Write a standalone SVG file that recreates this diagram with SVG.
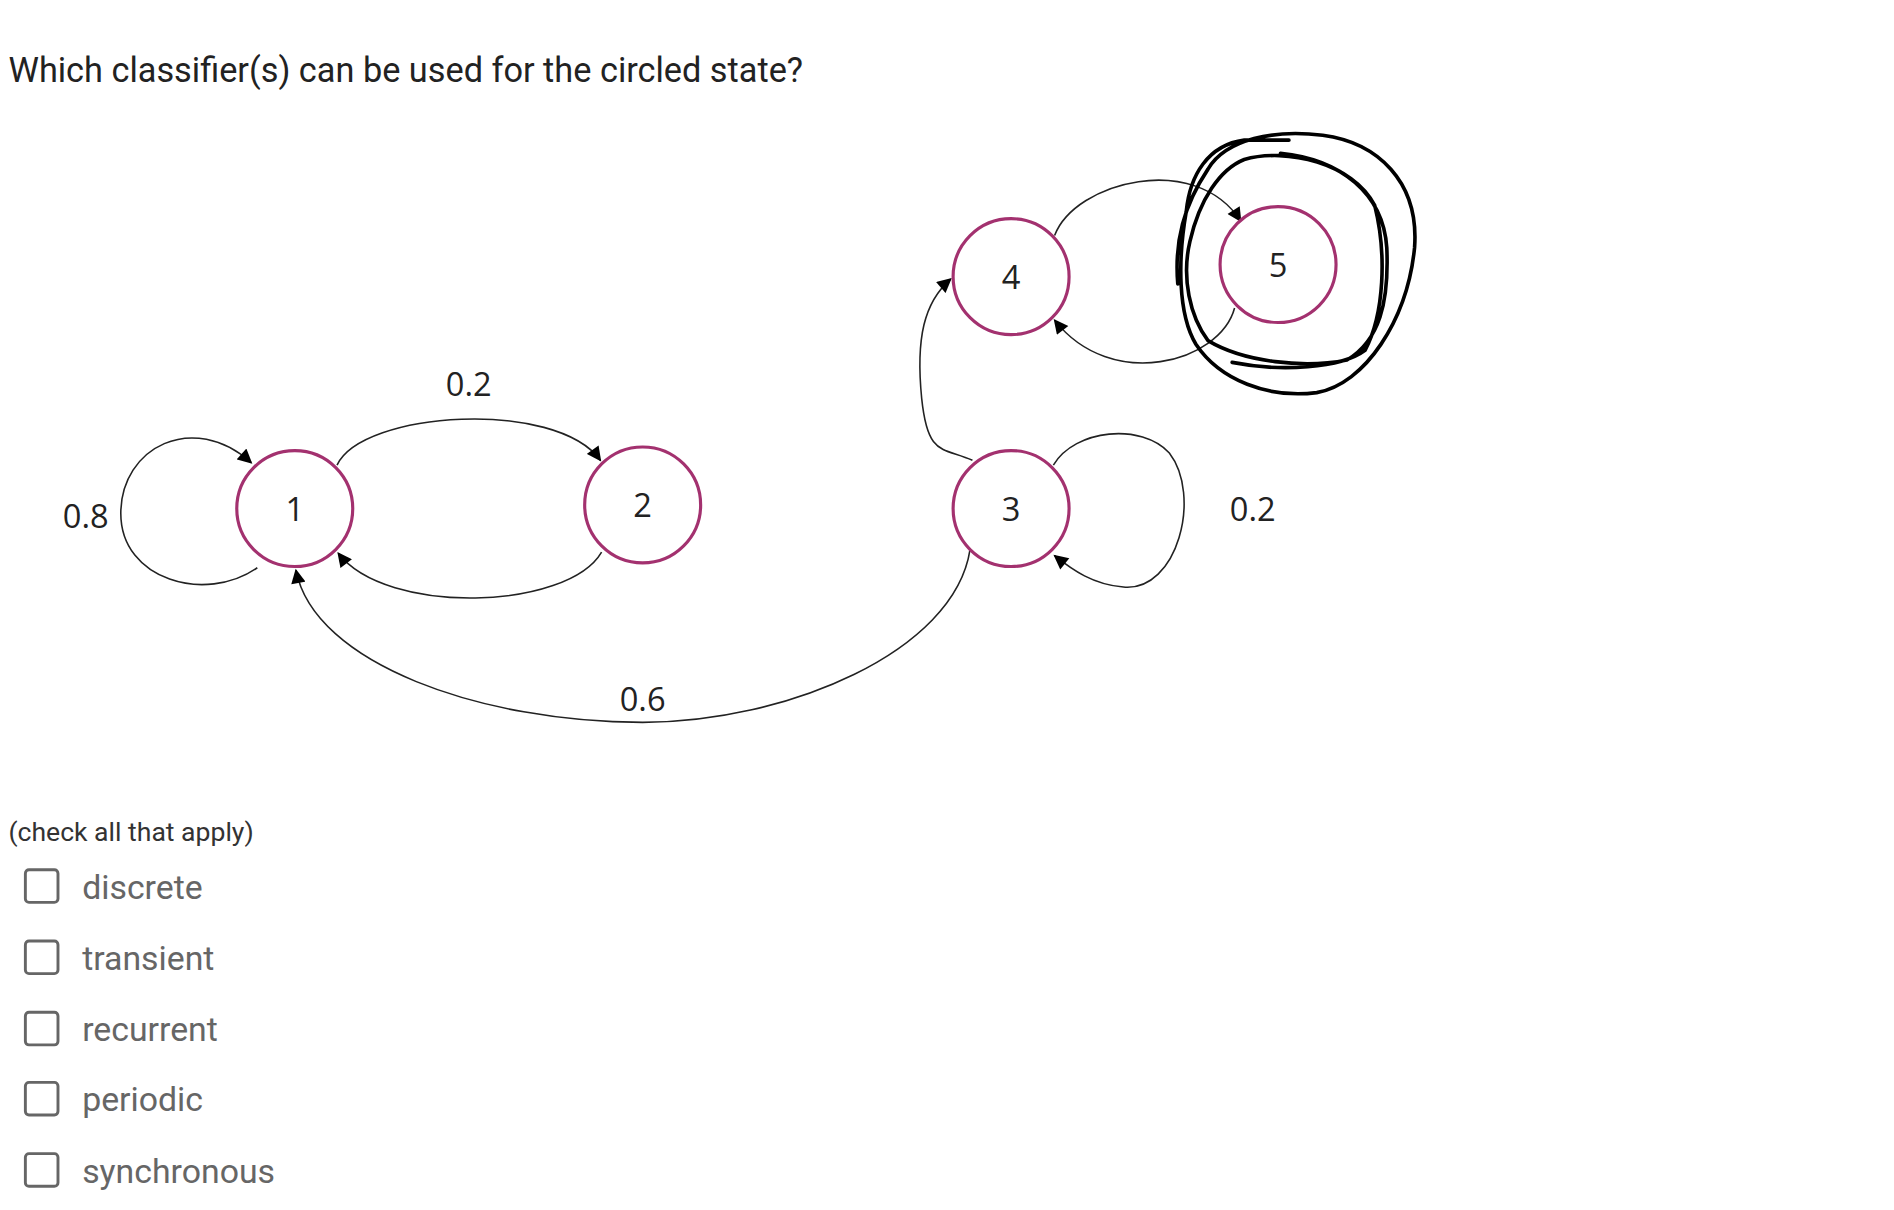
<svg xmlns="http://www.w3.org/2000/svg" width="1894" height="1210" viewBox="0 0 1894 1210">
<defs>
<marker id="ah" viewBox="0 0 10 10" refX="9" refY="5" markerWidth="13" markerHeight="12" orient="auto" markerUnits="userSpaceOnUse"><path d="M0,0 L10,5 L0,10 z" fill="#000"/></marker>
<style>
.node{fill:#fff;stroke:#a3316f;stroke-width:2.6}
.nl{font-family:"Open Sans","Noto Sans",sans-serif;font-size:27px;fill:#222;text-anchor:middle}
.el{font-family:"Open Sans","Noto Sans",sans-serif;font-size:27px;fill:#222;text-anchor:middle}
.edge{fill:none;stroke:#222;stroke-width:1.3;marker-end:url(#ah)}
.scr{fill:none;stroke:#000;stroke-width:3;stroke-linecap:round}
.cb{fill:none;stroke:#666;stroke-width:2.4}
.opt{font-family:Roboto,"Liberation Sans",sans-serif;font-size:28px;fill:#666}
</style>
</defs>
<rect width="1894" height="1210" fill="#fff"/>
<g transform="scale(1.208)">
<text x="7" y="68" font-family="Roboto,'Liberation Sans',sans-serif" font-size="28.4" fill="#222">Which classifier(s) can be used for the circled state?</text>
<g id="connectors">
<path class="edge" d="M213,470 C170,500 100,480 100,425 C100,370 160,340 208,383"/>
<path class="edge" d="M279,385 C300,340 460,330 497,381"/>
<path class="edge" d="M498,457 C470,505 320,510 280,458"/>
<path class="edge" d="M803,455 C790,540 650,598 532,598 C400,598 260,550 245,472"/>
<path class="edge" d="M805,381 C780,370 768,378 763,330 C758,280 765,250 787,231"/>
<path class="edge" d="M873,195 C890,150 990,125 1027,183"/>
<path class="edge" d="M1022,255 C1010,300 920,325 873,265"/>
<path class="edge" d="M872,385 C890,355 945,350 968,375 C995,410 975,490 930,486 C905,484 888,472 873,460"/>
</g>
<g id="labels">
<text class="el" x="71" y="437">0.8</text>
<text class="el" x="388" y="328">0.2</text>
<text class="el" x="532" y="589">0.6</text>
<text class="el" x="1037" y="431">0.2</text>
</g>
<g id="n1"><circle class="node" cx="244" cy="421" r="48"/><text class="nl" x="244" y="431">1</text></g>
<g id="n2"><circle class="node" cx="532" cy="418" r="48"/><text class="nl" x="532" y="428">2</text></g>
<g id="n3"><circle class="node" cx="837" cy="421" r="48"/><text class="nl" x="837" y="431">3</text></g>
<g id="n4"><circle class="node" cx="837" cy="229" r="48"/><text class="nl" x="837" y="239">4</text></g>
<g id="n5"><circle class="node" cx="1058" cy="219" r="48"/><text class="nl" x="1058" y="229">5</text></g>
<g id="scribble">
<path class="scr" d="M1067,116 L1030,116 C1000,120 985,145 982,175 C975,215 975,260 990,285 C1010,315 1050,330 1090,325 C1130,318 1165,265 1171,205 C1175,150 1140,118 1095,112 C1055,107 1015,115 1000,140 C980,170 972,200 975,235"/>
<path class="scr" d="M1060,127 C1110,132 1145,160 1148,205 C1150,250 1142,282 1115,298 C1080,305 1030,300 1000,282 C985,262 978,230 985,200 C993,165 1010,140 1030,132 C1065,122 1120,135 1138,170 C1148,210 1146,260 1130,290 C1110,305 1060,308 1020,300"/>
</g>
<text x="7" y="696" font-family="Roboto,'Liberation Sans',sans-serif" font-size="22" fill="#333">(check all that apply)</text>
<g id="options">
<rect class="cb" x="21" y="720" width="27" height="27" rx="3"/><text class="opt" x="68" y="744">discrete</text>
<rect class="cb" x="21" y="779" width="27" height="27" rx="3"/><text class="opt" x="68" y="803">transient</text>
<rect class="cb" x="21" y="838" width="27" height="27" rx="3"/><text class="opt" x="68" y="862">recurrent</text>
<rect class="cb" x="21" y="896" width="27" height="27" rx="3"/><text class="opt" x="68" y="920">periodic</text>
<rect class="cb" x="21" y="955" width="27" height="27" rx="3"/><text class="opt" x="68" y="979">synchronous</text>
</g>
</g>
</svg>
